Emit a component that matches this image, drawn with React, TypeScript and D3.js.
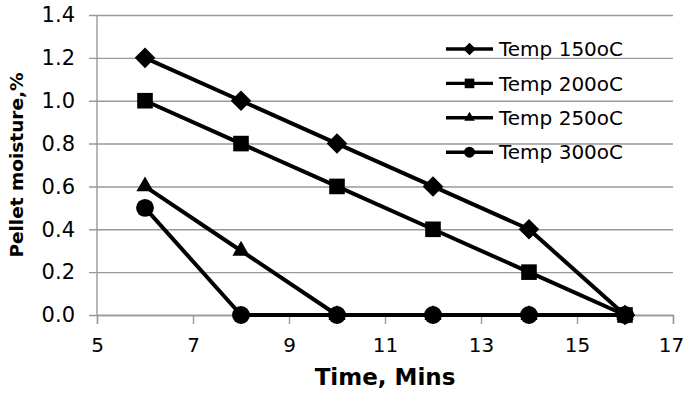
// @ts-nocheck
import React from 'react'
import * as d3 from 'd3'

const times = [6, 8, 10, 12, 14, 16]
const temp150 = [1.2, 1.0, 0.8, 0.6, 0.4, 0.0]
const temp200 = [1.0, 0.8, 0.6, 0.4, 0.2, 0.0]
const temp250 = [0.6, 0.3, 0.0, 0.0, 0.0, 0.0]
const temp300 = [0.5, 0.0, 0.0, 0.0, 0.0, 0.0]
const seriesNames = ['Temp 150oC', 'Temp 200oC', 'Temp 250oC', 'Temp 300oC']
const xTicks = [5, 7, 9, 11, 13, 15, 17]
const yTicks = [0, 0.2, 0.4, 0.6, 0.8, 1.0, 1.2, 1.4]

const width = 685
const height = 402
const margin = { top: 15, right: 12, bottom: 87, left: 97 }
const font = '"DejaVu Sans", Verdana, sans-serif'
const grid = '#999'

// marker shapes, scaled for plot (k=1) or legend
const symbolFor = (i, k = 1) => {
  if (i === 0) return d3.symbol().type(d3.symbolDiamond2).size(270 * k)
  if (i === 1) return d3.symbol().type(d3.symbolSquare2).size(310 * k)
  if (i === 2) return d3.symbol().type(d3.symbolTriangle2).size(210 * k)
  return d3.symbol().type(d3.symbolCircle).size(250 * k)
}

const App = () => {
  const svgRef = React.useRef(null)

  React.useEffect(() => {
    const innerW = width - margin.left - margin.right
    const innerH = height - margin.top - margin.bottom
    const xScale = d3.scaleLinear().domain([5, 17]).range([0, innerW])
    const yScale = d3.scaleLinear().domain([0, 1.4]).range([innerH, 0])

    const svgEl = d3.select(svgRef.current)
    svgEl.selectAll('*').remove()
    const svg = svgEl.append('g').attr('transform', `translate(${margin.left},${margin.top})`)

    // horizontal grid lines + y labels
    const yAxis = d3.axisLeft(yScale).tickValues(yTicks).tickSize(-innerW).tickPadding(22)
      .tickFormat((v) => d3.format('.1f')(v))
    const yG = svg.append('g').call(yAxis)
    yG.select('.domain').remove()
    yG.selectAll('line').attr('stroke', grid).attr('stroke-width', 1.4).attr('x1', -8)
    yG.selectAll('text').attr('font-family', font).attr('font-size', 21).attr('fill', '#000')

    // x axis
    const xAxis = d3.axisBottom(xScale).tickValues(xTicks).tickSize(9).tickPadding(14)
    const xG = svg.append('g').attr('transform', `translate(0,${innerH})`).call(xAxis)
    xG.select('.domain').attr('stroke', grid).attr('stroke-width', 1.4)
    xG.selectAll('line').attr('stroke', grid).attr('stroke-width', 1.4)
    xG.selectAll('text').attr('font-family', font).attr('font-size', 20).attr('fill', '#000')
      .attr('dx', (d) => (d === 17 ? -2 : 0))

    svg.append('line').attr('x1', 0).attr('x2', 0).attr('y1', 0).attr('y2', innerH)
      .attr('stroke', grid).attr('stroke-width', 1.4)

    const allSeries = [temp150, temp200, temp250, temp300]
    const line = d3.line().x((d) => xScale(d[0])).y((d) => yScale(d[1]))

    allSeries.forEach((vals) => {
      const pts = times.map((t, j) => [t, vals[j]])
      svg.append('path').attr('d', line(pts)).attr('fill', 'none')
        .attr('stroke', '#000').attr('stroke-width', 4).attr('stroke-linejoin', 'round')
    })
    allSeries.forEach((vals, i) => {
      const sym = symbolFor(i)
      svg.selectAll(`.m${i}`).data(times.map((t, j) => [t, vals[j]])).enter()
        .append('path')
        .attr('d', sym())
        .attr('transform', (d) => `translate(${xScale(d[0])},${yScale(d[1])})`)
        .attr('fill', '#000')
    })

    // legend
    const legend = svgEl.append('g').attr('transform', 'translate(446,49)')
    seriesNames.forEach((name, i) => {
      const row = legend.append('g').attr('transform', `translate(0,${i * 34.4})`)
      row.append('line').attr('x1', 0).attr('x2', 47).attr('y1', 0).attr('y2', 0)
        .attr('stroke', '#000').attr('stroke-width', 3.4)
      row.append('path').attr('d', symbolFor(i, 0.38)()).attr('transform', 'translate(23.5,0)').attr('fill', '#000')
      row.append('text').attr('x', 53).attr('y', 0).attr('dy', '0.36em')
        .attr('font-family', font).attr('font-size', 20).text(name)
    })

    // axis titles
    svgEl.append('text').attr('x', margin.left + innerW / 2).attr('y', 385)
      .attr('text-anchor', 'middle').attr('font-family', font).attr('font-weight', 'bold')
      .attr('font-size', 23).text('Time, Mins')
    svgEl.append('text').attr('transform', `translate(23,${margin.top + innerH / 2}) rotate(-90)`)
      .attr('text-anchor', 'middle').attr('font-family', font).attr('font-weight', 'bold')
      .attr('font-size', 18.5).text('Pellet moisture,%')
  }, [])

  return (
    <svg ref={svgRef} width={width} height={height}
      style={{ position: 'absolute', left: 0, top: 0, background: '#fff' }} />
  )
}

export default App
